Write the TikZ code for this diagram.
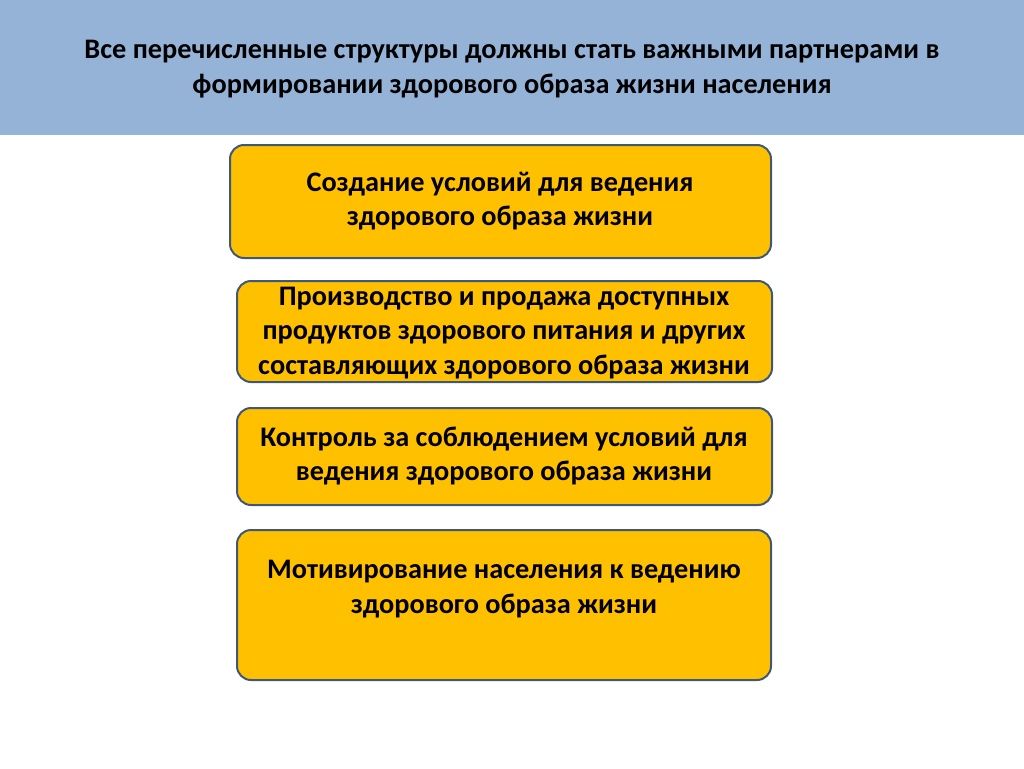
\documentclass[tikz,border=0pt]{standalone}
\usepackage{fontspec}
\setmainfont{Carlito}
\begin{document}
\begin{tikzpicture}[x=1pt,y=-1pt,
  box/.style={draw=boxline,line width=2pt,fill=boxfill,rounded corners=14pt},
  txt/.style={align=center,font=\fontsize{28.3}{34.5}\selectfont\bfseries,text=black}]
\definecolor{boxfill}{RGB}{255,192,0}
\definecolor{boxline}{RGB}{62,88,120}
\definecolor{band}{RGB}{149,179,215}
\useasboundingbox (0,0) rectangle (1024,768);
\fill[band] (0,0) rectangle (1024,135);
\node[txt] (title) at (512,69) {Все перечисленные структуры должны стать важными партнерами в\\формировании здорового образа жизни населения};
\draw[box] (230,145) rectangle (771,258);
\node[txt] (t1) at (500,201) {Создание условий для ведения\\здорового образа жизни};
\draw[box] (237,281) rectangle (772,382);
\node[txt] (t2) at (504,333) {Производство и продажа доступных\\продуктов здорового питания и других\\составляющих здорового образа жизни};
\draw[box] (237,408) rectangle (772,505);
\node[txt] (t3) at (504,456) {Контроль за соблюдением условий для\\ведения здорового образа жизни};
\draw[box] (237,530) rectangle (771,680);
\node[txt] (t4) at (504,589) {Мотивирование населения к ведению\\здорового образа жизни};
\end{tikzpicture}
\end{document}
